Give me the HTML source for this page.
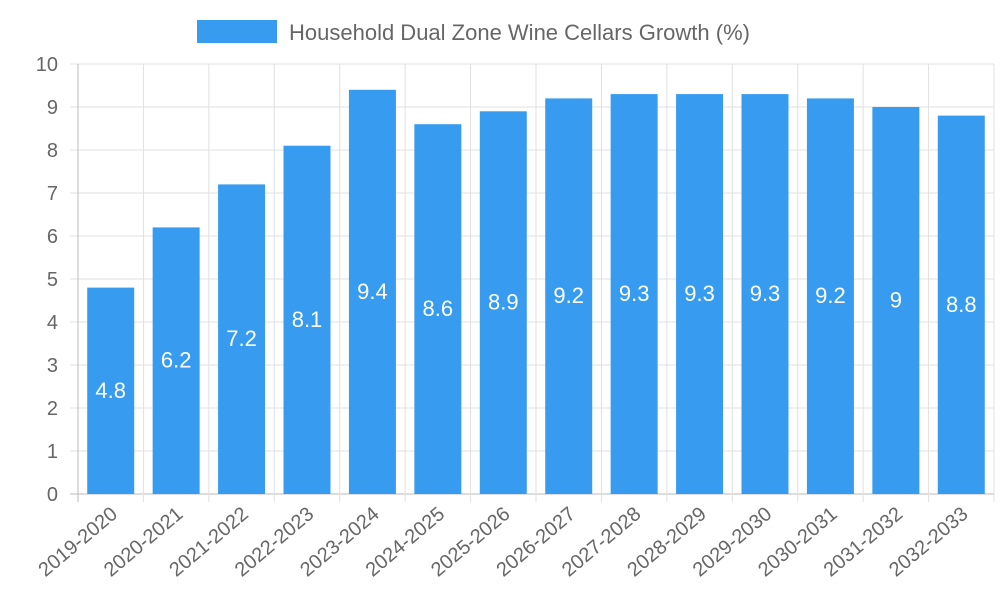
<!DOCTYPE html>
<html><head><meta charset="utf-8"><style>
body{margin:0;background:#fff;}
svg{display:block;font-family:"Liberation Sans",sans-serif;}
</style></head><body>
<svg id="chart" width="1000" height="600">
<g>
<rect x="197" y="20" width="80" height="23" fill="#379cf0"/>
<text x="289" y="40" font-size="22" fill="#666">Household Dual Zone Wine Cellars Growth (%)</text>
</g>
<g id="grid"></g>
<g id="bars"></g>
<g id="xl"></g>
<g id="yl"></g>
</svg>
<script>
const categories=["2019-2020","2020-2021","2021-2022","2022-2023","2023-2024","2024-2025","2025-2026","2026-2027","2027-2028","2028-2029","2029-2030","2030-2031","2031-2032","2032-2033"];
const values=[4.8,6.2,7.2,8.1,9.4,8.6,8.9,9.2,9.3,9.3,9.3,9.2,9,8.8];
const yTicks=[0,1,2,3,4,5,6,7,8,9,10];
const L=78,R=994,T=64,B=494,yMax=10;
const NS="http://www.w3.org/2000/svg";
const bw=(R-L)/categories.length;
const y=v=>B-(v/yMax)*(B-T);
const x=i=>L+i*bw;
function mk(tag,attrs,parent){const e=document.createElementNS(NS,tag);for(const k in attrs)e.setAttribute(k,attrs[k]);parent.appendChild(e);return e;}
const grid=document.getElementById('grid'),bars=document.getElementById('bars'),xl=document.getElementById('xl'),yl=document.getElementById('yl');
yTicks.forEach(t=>{
 const l=mk('line',{x1:L-8,x2:R,y1:y(t),y2:y(t),stroke:t===0?'#bbb':'#e0e0e0','stroke-width':1},grid);
 
 
 const tx=mk('text',{x:L-20,y:y(t)+7,'text-anchor':'end','font-size':20,fill:'#666'},yl);
 tx.textContent=t;
 
 
});
for(let i=0;i<=categories.length;i++){
 const l=mk('line',{x1:x(i),x2:x(i),y1:T,y2:B+8,stroke:i===0?'#bbb':'#e0e0e0','stroke-width':1},grid);
 
 
}
categories.forEach((c,i)=>{
 const cx=x(i)+bw/2,w=47;
 const r=mk('rect',{x:cx-w/2,y:y(values[i]),width:w,height:B-y(values[i]),fill:'#379cf0'},bars);
 
 
 const v=mk('text',{x:cx,y:(y(values[i])+B)/2+7,'text-anchor':'middle','font-size':22,fill:'#fff'},bars);
 v.textContent=values[i];
 
 
 const t=mk('text',{x:0,y:0,'text-anchor':'end','font-size':20,fill:'#666',transform:`translate(${cx+8},${B+22}) rotate(-40)`},xl);
 t.textContent=c;
 
 
});
</script>
</body></html>
